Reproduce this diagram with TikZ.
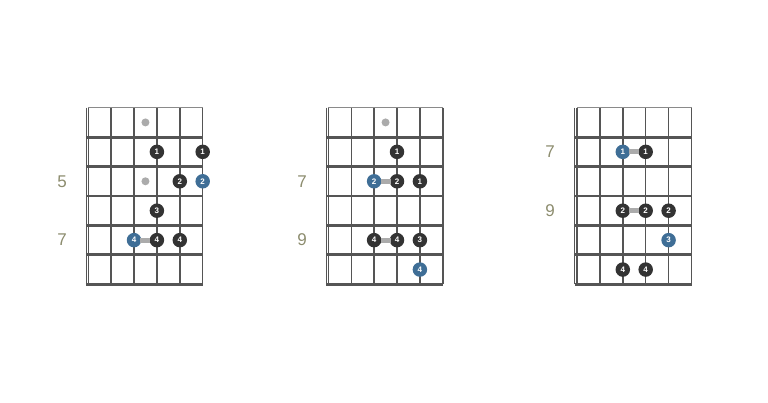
\documentclass[tikz,border=0pt]{standalone}
\usepackage{fontspec}
\setmainfont{Liberation Sans}
\usetikzlibrary{calc}
\definecolor{fretgray}{HTML}{555555}
\definecolor{topgray}{HTML}{8A8A8A}
\definecolor{dotblack}{HTML}{333333}
\definecolor{dotblue}{HTML}{3F6E96}
\definecolor{markgray}{HTML}{ABABAB}
\definecolor{labelolive}{HTML}{8C8C6E}
\tikzset{stringline/.style = {draw=fretgray, line width=1.4pt}}
\tikzset{fretline/.style = {draw=fretgray, line width=2.8pt}}
\tikzset{topline/.style = {draw=topgray, line width=1pt}}
\tikzset{finger/.style = {circle, fill=dotblack, text=white, inner sep=0pt, minimum size=14.5pt,
						 font=\bfseries\fontsize{8}{8}\selectfont}}
\tikzset{root/.style = {finger, fill=dotblue}}
\tikzset{inlay/.style = {circle, fill=markgray, inner sep=0pt, minimum size=8pt}}
\tikzset{barre/.style = {draw=markgray, line width=5pt, shorten <=-1pt, shorten >=-1pt}}
\tikzset{fretnum/.style = {text=labelolive, font=\fontsize{17}{17}\selectfont}}
\tikzset{neck/.pic = {
		% Strings
		\foreach \s in {0,...,5}
		{
			\draw[stringline] (\s,0) -- (\s,6);
		}
		\draw[stringline, line width=0.8pt] (-0.1,0) -- (-0.1,6);
		% Frets
		\draw[topline] (0,0) -- (5,0);
		\foreach \f in {1,...,6}
		{
			\draw[fretline] (-0.1,\f) -- (5,\f);
		}
	}}

\begin{document}
\begin{tikzpicture}[x=1pt, y=-1pt]
		\useasboundingbox (0,0) rectangle (768,402);

		% First shape
		\begin{scope}[shift={(88.2,107.7)}, x=22.9pt, y=-29.43pt]
			\pic {neck};
			\node[inlay] (m1a) at (2.5,0.5) {};
			\node[inlay] (m1b) at (2.5,2.5) {};
			\node[finger] (a11) at (3,1.5) {1};
			\node[finger] (a12) at (5,1.5) {1};
			\node[finger] (a21) at (4,2.5) {2};
			\node[root] (a22) at (5,2.5) {2};
			\node[finger] (a31) at (3,3.5) {3};
			\node[root] (a41) at (2,4.5) {4};
			\node[finger] (a42) at (3,4.5) {4};
			\node[finger] (a43) at (4,4.5) {4};
			\draw[barre] (a41) -- (a42);
			\node[fretnum] (f1a) at (-1.14,2.5) {5};
			\node[fretnum] (f1b) at (-1.14,4.5) {7};
		\end{scope}

		% Second shape
		\begin{scope}[shift={(328.3,107.7)}, x=22.9pt, y=-29.43pt]
			\pic {neck};
			\node[inlay] (m2a) at (2.5,0.5) {};
			\node[finger] (b11) at (3,1.5) {1};
			\node[root] (b21) at (2,2.5) {2};
			\node[finger] (b22) at (3,2.5) {2};
			\node[finger] (b23) at (4,2.5) {1};
			\draw[barre] (b21) -- (b22);
			\node[finger] (b41) at (2,4.5) {4};
			\node[finger] (b42) at (3,4.5) {4};
			\node[finger] (b43) at (4,4.5) {3};
			\draw[barre] (b41) -- (b42);
			\node[root] (b51) at (4,5.5) {4};
			\node[fretnum] (f2a) at (-1.14,2.5) {7};
			\node[fretnum] (f2b) at (-1.14,4.5) {9};
		\end{scope}

		% Third shape
		\begin{scope}[shift={(577,107.7)}, x=22.9pt, y=-29.43pt]
			\pic {neck};
			\node[root] (c11) at (2,1.5) {1};
			\node[finger] (c12) at (3,1.5) {1};
			\draw[barre] (c11) -- (c12);
			\node[finger] (c21) at (2,3.5) {2};
			\node[finger] (c22) at (3,3.5) {2};
			\node[finger] (c23) at (4,3.5) {2};
			\draw[barre] (c21) -- (c22);
			\node[root] (c31) at (4,4.5) {3};
			\node[finger] (c41) at (2,5.5) {4};
			\node[finger] (c42) at (3,5.5) {4};
			\node[fretnum] (f3a) at (-1.18,1.5) {7};
			\node[fretnum] (f3b) at (-1.18,3.5) {9};
		\end{scope}
	\end{tikzpicture}
\end{document}
